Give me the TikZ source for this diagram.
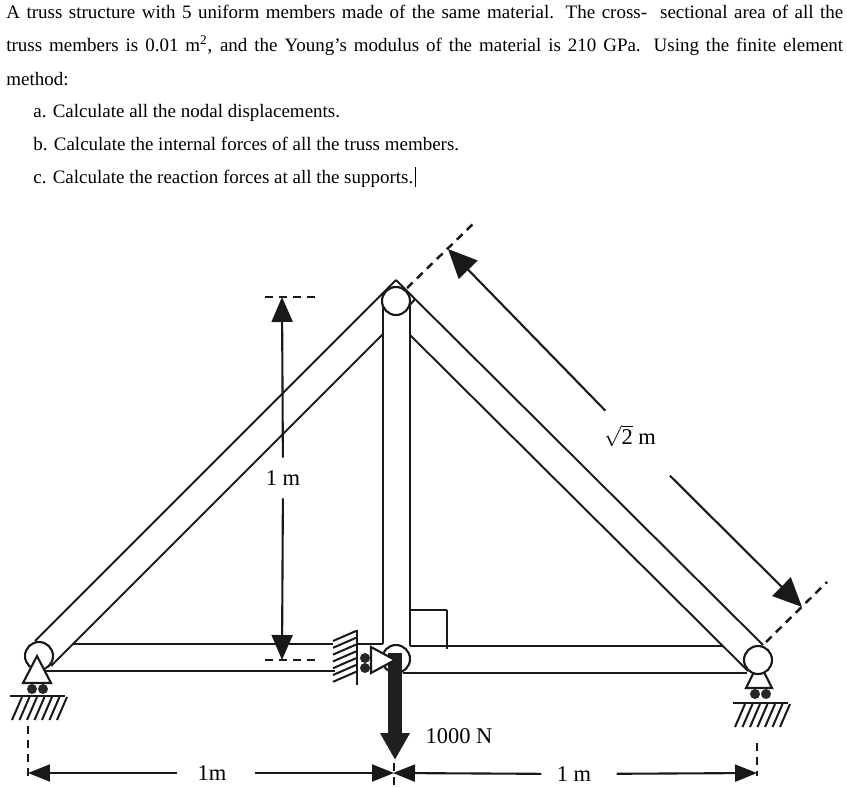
\documentclass[tikz,border=0pt]{standalone}
\usepackage{amsmath,amssymb}
\usepackage{fontspec}
\setmainfont{Liberation Serif}
\usepackage{tikz}
\usetikzlibrary{arrows.meta}
\newcommand{\fullline}[1]{\makebox[16.74cm][s]{#1}}
\tikzset{
	member/.style={line width=1.1pt,black!90},
	pin/.style={circle,draw=black!90,fill=white,line width=1.2pt,minimum size=0.56cm,inner sep=0pt},
	roller/.style={circle,fill=black!85,minimum size=0.2cm,inner sep=0pt},
	seat/.style={draw=black!90,fill=white,line width=1.2pt,line join=miter},
	dimdash/.style={line width=1.4pt,black!90,dash pattern=on 4.5pt off 3.4pt},
	hatch/.style={line width=1.15pt,black!90},
	dimh/.style={line width=1.2pt,black!90,-{Triangle[length=0.44cm,width=0.34cm]}},
	dimv/.style={line width=1.2pt,black!90,-{Triangle[length=0.5cm,width=0.42cm]}},
	dimd/.style={line width=1.2pt,black!90,-{Triangle[length=0.58cm,width=0.52cm]}},
	statement/.style={anchor=west,inner sep=0pt,font=\fontsize{10.8}{12}\selectfont},
	dimlabel/.style={font=\fontsize{12.8}{15}\selectfont,inner sep=0pt}
}
\begin{document}
\begin{tikzpicture}[x=0.02cm,y=-0.02cm]
	\useasboundingbox (0,0) rectangle (847,787);

	\node[statement] at (6,12) (line1) {\fullline{A truss structure with 5 uniform members made of the same material. The cross-\ \ sectional area of all the}};
	\node[statement] at (6,46) (line2) {\fullline{truss members is 0.01 m\textsuperscript{2}, and the Young’s modulus of the material is 210 GPa. Using the finite element}};
	\node[statement] at (6,79) (line3) {method:};
	\node[statement] at (33,112.5) (parta) {a. Calculate all the nodal displacements.};
	\node[statement] at (33,144) (partb) {b. Calculate the internal forces of all the truss members.};
	\node[statement] at (33,178.5) (partc) {c. Calculate the reaction forces at all the supports.};
	\coordinate (cursortop) at (415,167);
	\coordinate (cursorbot) at (415,187);
	\path[line width=0.5pt] (cursortop) edge (cursorbot);

	\coordinate (apex) at (396,280);
	\coordinate (lo) at (35,641);
	\coordinate (li1) at (55,662);
	\coordinate (li2) at (383,334);
	\coordinate (ro) at (763,645);
	\coordinate (ri1) at (410,335);
	\coordinate (ri2) at (748,671);
	\coordinate (vl1) at (383,293);
	\coordinate (vl2) at (383,644);
	\coordinate (vr1) at (410,298);
	\coordinate (vr2) at (410,646);
	\coordinate (capa) at (415,299);
	\coordinate (capb) at (410,305);
	\coordinate (hlt1) at (73,644);
	\coordinate (hlt2) at (333,644);
	\coordinate (hlt3) at (357,644);
	\coordinate (hlb1) at (45,671);
	\coordinate (hlb2) at (335,671);
	\coordinate (hrt1) at (410,646);
	\coordinate (hrt2) at (722,646);
	\coordinate (hrb1) at (403,673);
	\coordinate (hrb2) at (747,673);
	\coordinate (sq1) at (410,610);
	\coordinate (sq2) at (447,610);
	\coordinate (sq3) at (447,649);

	\path[member] (apex) edge (lo);
	\path[member] (li1) edge (li2);
	\path[member] (li1) edge (51,666);
	\path[member] (apex) edge (capa);
	\path[member] (capa) edge (ro);
	\path[member] (capa) edge (capb);
	\path[member] (ri1) edge (ri2);
	\path[member] (vl1) edge (vl2);
	\path[member] (vr1) edge (vr2);
	\path[member] (hlt1) edge (hlt2);
	\path[member] (hlt3) edge (vl2);
	\path[member] (hlb1) edge (hlb2);
	\path[member] (hrt1) edge (hrt2);
	\path[member] (hrb1) edge (hrb2);
	\path[line width=1.5pt,black!90] (sq1) edge (sq2);
	\path[line width=1.5pt,black!90] (sq2) edge (sq3);

	\node[pin] at (396,301) (ptop) {};
	\node[pin] at (396,659) (pmid) {};
	\node[pin] at (39,656) (pleft) {};

	\draw[seat] (37,656) -- (23,683) -- (51,683) -- cycle;
	\draw[seat] (759,662) -- (746,688) -- (772,688) -- cycle;
	\node[pin] at (758,660) (pright) {};
	\node[roller] at (32,689) (rl1) {};
	\node[roller] at (43,689) (rl2) {};
	\node[roller] at (755,694) (rr1) {};
	\node[roller] at (766,694) (rr2) {};
	\node[roller] at (365,658) (rm1) {};
	\node[roller] at (365,668) (rm2) {};

	\coordinate (gl1) at (10,696);
	\coordinate (gl2) at (65,696);
	\coordinate (gr1) at (733,703);
	\coordinate (gr2) at (788,703);
	\coordinate (wall1) at (357,630);
	\coordinate (wall2) at (357,685);
	\path[line width=1.3pt,black!90] (gl1) edge (gl2);
	\path[line width=1.3pt,black!90] (gr1) edge (gr2);
	\path[line width=1.6pt,black!90] (wall1) edge (wall2);
	\foreach \i in {0,...,6} {
		\draw[hatch] (12+7.5*\i,720) -- (22+7.5*\i,697);
		\draw[hatch] (735+7.5*\i,727) -- (745+7.5*\i,704);
	}
	\foreach \i in {0,...,6} {
		\draw[hatch] (333,641+6.8*\i) -- (356,631+6.8*\i);
	}

	\coordinate (loadtop) at (395,653);
	\coordinate (loadtip) at (395,760);
	\draw[line width=8pt,-{Triangle[length=0.54cm,width=0.56cm]},black!88] (loadtop) -- (loadtip);
	\draw[seat] (371,647) -- (395,660) -- (371,673) -- cycle;
	\node[dimlabel] at (459,736) (force) {1000 N};

	\coordinate (dv1) at (394,763);
	\coordinate (dv2) at (394,785);
	\coordinate (dl1) at (28,726);
	\coordinate (dl2) at (28,779);
	\coordinate (dr1) at (757,743);
	\coordinate (dr2) at (757,776);
	\coordinate (dt1) at (265,297);
	\coordinate (dt2) at (318,297);
	\coordinate (db1) at (265,660);
	\coordinate (db2) at (318,660);
	\coordinate (dd1) at (407,288);
	\coordinate (dd2) at (475,222);
	\coordinate (de1) at (766,642);
	\coordinate (de2) at (827,582);
	\path[dimdash] (dv1) edge (dv2);
	\path[dimdash] (dl1) edge (dl2);
	\path[dimdash] (dr1) edge (dr2);
	\path[dimdash] (dt1) edge (dt2);
	\path[dimdash] (db1) edge (db2);
	\path[dimdash] (dd1) edge (dd2);
	\path[dimdash] (de1) edge (de2);

	\coordinate (tipl) at (28,773);
	\coordinate (tipml) at (394,773);
	\coordinate (tipmr) at (393,773);
	\coordinate (tipr) at (757,773);
	\coordinate (tipt) at (282,297);
	\coordinate (tipb) at (282,660);
	\coordinate (tipdt) at (448,249);
	\coordinate (tipdb) at (802,607);
	\node[dimlabel,inner xsep=0.4cm] at (212,773) (len1) {1m};
	\node[dimlabel,inner xsep=0.3cm] at (574,774) (len2) {1 m};
	\node[dimlabel,minimum height=0.8cm] at (283,478) (height) {1 m};
	\node[dimlabel,circle,minimum size=1.4cm] at (630,436) (diag) {$\sqrt{\mathrm{2}}$ m};
	\path[dimh] (len1) edge (tipl);
	\path[dimh,shorten <=0.16cm] (len1) edge (tipml);
	\path[dimh] (len2) edge (tipmr);
	\path[dimh,shorten <=0.2cm] (len2) edge (tipr);
	\path[dimv] (height) edge (tipt);
	\path[dimv] (height) edge (tipb);
	\path[dimd] (diag) edge (tipdt);
	\path[dimd,shorten <=0.42cm] (diag) edge (tipdb);
\end{tikzpicture}
\end{document}
